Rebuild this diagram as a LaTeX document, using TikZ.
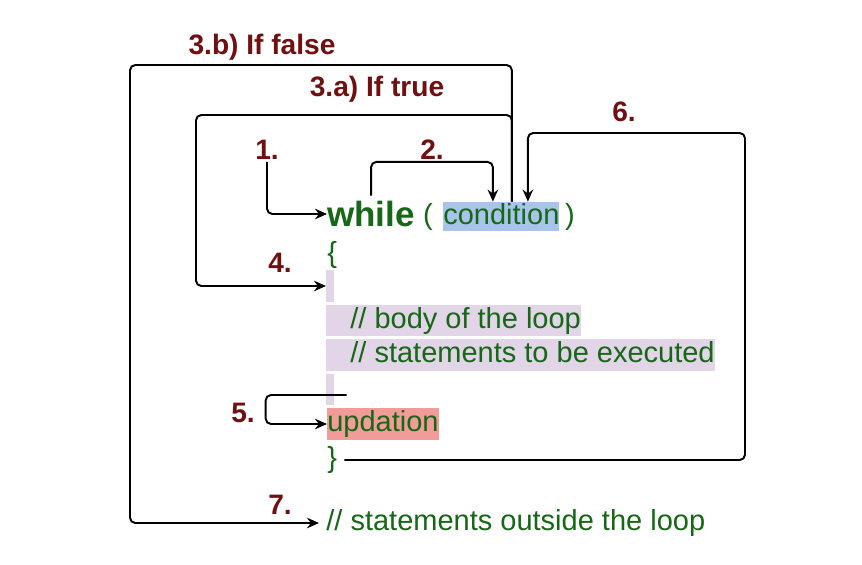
\documentclass[tikz,border=0pt]{standalone}
\usepackage{fontspec}
\setmainfont{Liberation Sans}
\usetikzlibrary{arrows.meta,positioning}
\definecolor{maroon}{RGB}{112,16,16}
\definecolor{leaf}{RGB}{22,104,22}
\definecolor{sky}{RGB}{169,196,235}
\definecolor{lilac}{RGB}{225,213,231}
\definecolor{salmon}{RGB}{241,156,153}
\tikzset{
  >={Stealth[length=2.4mm,width=2.1mm]},
  flow/.style={->,line width=1.1pt,rounded corners=3pt},
  num/.style={text=maroon,font=\fontsize{16}{18}\selectfont\bfseries,inner sep=1pt},
  code/.style={text=leaf,font=\fontsize{16.5}{19}\selectfont,inner sep=0pt,anchor=west,
    text height=12.4pt,text depth=3.6pt},
  hilite/.style={code,fill=#1},
  hilite/.default=lilac,
}
\begin{document}
\begin{tikzpicture}
  \useasboundingbox[fill=white] (0,0) rectangle (17.24,11.28);
  % code lines
  \node[code,font=\fontsize{19.9}{22}\selectfont\bfseries,text height=14.6pt,text depth=0pt] (while) at (6.54,7.00) {while};
  \node[hilite=sky,minimum width=2.3cm,minimum height=0.58cm] (cond) at (8.86,6.95) {condition};
  \node[code,left=0.2cm of cond] (lpar) {(};
  \node[code,right=0.1cm of cond] (rpar) {)};
  \node[code] (lbrace) at (6.54,6.18) {\{};
  \node[hilite,minimum width=0.16cm,minimum height=0.64cm] (bar1) at (6.52,5.56) {};
  \node[hilite,minimum height=0.62cm] (body1) at (6.52,4.87) {\hspace*{0.48cm}// body of the loop};
  \node[hilite,minimum height=0.64cm] (body2) at (6.52,4.18) {\hspace*{0.48cm}// statements to be executed};
  \node[hilite,minimum width=0.16cm,minimum height=0.62cm] (bar2) at (6.52,3.49) {};
  \node[hilite=salmon,minimum height=0.64cm] (upd) at (6.54,2.80) {updation};
  \node[code] (rbrace) at (6.54,2.08) {\}};
  \node[code,inner xsep=4pt] (outside) at (6.38,0.82) {// statements outside the loop};
  % step numbers
  \node[num] (lbl3b) at (5.24,10.34) {3.b) If false};
  \node[num] (lbl3a) at (7.54,9.49) {3.a) If true};
  \node[num] (lbl1) at (5.34,8.28) {1.};
  \node[num] (lbl2) at (8.64,8.28) {2.};
  \node[num] (lbl6) at (12.48,9.04) {6.};
  \node[num] (lbl4) at (5.60,6.02) {4.};
  \node[num] (lbl5) at (4.86,3.02) {5.};
  \node[num] (lbl7) at (5.60,1.18) {7.};
  \coordinate (t2) at ([xshift=-0.17cm]cond.north);
  \coordinate (t3) at ([xshift=0.21cm]cond.north);
  \coordinate (t6) at ([xshift=0.53cm]cond.north);
  \coordinate (s5) at ([xshift=0.24cm,yshift=-0.11cm]bar2.east);
  \draw[flow] (lbl1) |- (while);
  \draw[flow] ([yshift=3pt]while.north) |- (lbl2.south) -| (t2);
  \draw[flow] (t3) |- (3.92,8.98) |- (bar1);
  \draw[flow] (t3) |- (2.60,9.98) |- (outside);
  \draw[flow] ([xshift=0.14cm]rbrace.east) -| (14.90,8.62) -| (t6);
  \draw[flow] (s5) -- ++(-1.62,0) |- (upd);
\end{tikzpicture}
\end{document}
